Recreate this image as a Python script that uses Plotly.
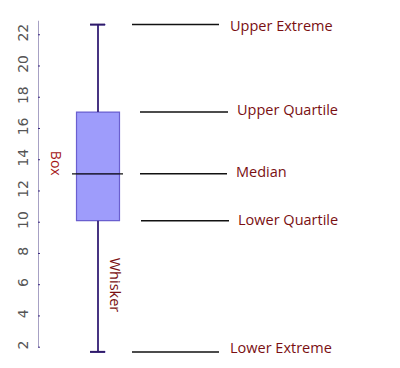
import plotly.graph_objects as go

# Five-number summary
stat_names = ["Lower Extreme", "Lower Quartile", "Median", "Upper Quartile", "Upper Extreme"]
stat_values = [1.7, 10.1, 13.1, 17.05, 22.65]
tick_vals = [2, 4, 6, 8, 10, 12, 14, 16, 18, 20, 22]
part_labels = ["Box", "Whisker"]

lo, q1, med, q3, hi = stat_values

fig = go.Figure()

BOX_X = 98
fig.add_trace(go.Box(
    x=[BOX_X], q1=[q1], median=[med], q3=[q3], lowerfence=[lo], upperfence=[hi],
    width=43, whiskerwidth=0.35,
    fillcolor="#9e9cfb", line=dict(color="#6a5fcf", width=1.2),
    boxpoints=False, hoverinfo="skip", showlegend=False,
))
# whiskers drawn darker
fig.add_trace(go.Scatter(x=[BOX_X, BOX_X], y=[q3, hi], mode="lines",
                         line=dict(color="#2f1a6a", width=1.6), showlegend=False, hoverinfo="skip"))
fig.add_trace(go.Scatter(x=[BOX_X, BOX_X], y=[lo, q1], mode="lines",
                         line=dict(color="#2f1a6a", width=1.6), showlegend=False, hoverinfo="skip"))
fig.add_trace(go.Scatter(x=[90, 105], y=[hi, hi], mode="lines",
                         line=dict(color="#2f1a6a", width=2), showlegend=False, hoverinfo="skip"))
fig.add_trace(go.Scatter(x=[90, 105], y=[lo, lo], mode="lines",
                         line=dict(color="#2f1a6a", width=2), showlegend=False, hoverinfo="skip"))
# median line extends past box
fig.add_trace(go.Scatter(x=[72, 123], y=[med, med], mode="lines",
                         line=dict(color="#111111", width=1.3), showlegend=False, hoverinfo="skip"))

# pointer lines and labels
line_x = {"Lower Extreme": (132, 219, 228), "Lower Quartile": (141, 229, 236),
          "Median": (140, 227, 234), "Upper Quartile": (140, 228, 235),
          "Upper Extreme": (132, 219, 228)}
yshift = {"Lower Extreme": 4, "Lower Quartile": 1, "Median": 2, "Upper Quartile": 3, "Upper Extreme": -1}
for name, val in zip(stat_names, stat_values):
    x0, x1, xt = line_x[name]
    fig.add_trace(go.Scatter(x=[x0, x1], y=[val, val], mode="lines",
                             line=dict(color="#111111", width=1.5), showlegend=False, hoverinfo="skip"))
    fig.add_annotation(x=xt, y=val, text=name, showarrow=False, xanchor="left",
                       yshift=yshift[name],
                       font=dict(family="Open Sans", size=14.5, color="#7a0f12"))

fig.add_annotation(x=56, y=13.8, text=part_labels[0], textangle=90, showarrow=False,
                   font=dict(family="Open Sans", size=14, color="#a31515"))
fig.add_annotation(x=115, y=6.0, text=part_labels[1], textangle=90, showarrow=False,
                   font=dict(family="Open Sans", size=14.5, color="#7a0f12"))

# axis line from 2 to top
fig.add_shape(type="line", xref="x", yref="y", x0=38, x1=38, y0=tick_vals[0], y1=22.9,
              line=dict(color="#8a82b0", width=1.5))

# page has an 8px body margin, so figure is 392x360 and margins shifted by 8
fig.update_layout(
    width=392, height=360,
    margin=dict(l=30, r=0, t=8, b=13),
    paper_bgcolor="white", plot_bgcolor="white",
    xaxis=dict(range=[38, 400], visible=False),
    yaxis=dict(range=[1.5, 23.2], tickvals=tick_vals, ticktext=[str(v) for v in tick_vals],
               tickangle=-90, showgrid=False, zeroline=False, showline=False,
               ticks="", ticklabelstandoff=6,
               tickfont=dict(family="DejaVu Sans", size=14, color="#555555")),
)
# small tick marks crossing the axis
for v in tick_vals:
    fig.add_shape(type="line", xref="x", yref="y", x0=37, x1=40, y0=v, y1=v,
                  line=dict(color="#3b2a80", width=1))

fig.write_html("out.html")
